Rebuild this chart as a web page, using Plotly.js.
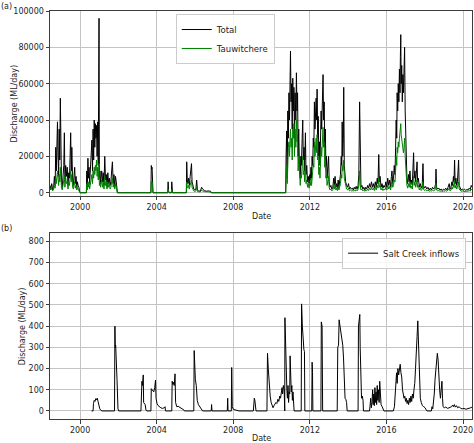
<!DOCTYPE html>
<html>
<head>
<meta charset="utf-8">
<script src="https://cdn.plot.ly/plotly-3.0.1.min.js"></script>
<style>
  html, body { margin: 0; padding: 0; background: #fff; }
  #chart { width: 474px; height: 443px; }
</style>
</head>
<body>
<div id="chart"></div>
<script>
// (a) barrage discharge, ML/day (decimal years)
const lakeYears = [
  // 1998-99
  1998.43, 1998.47, 1998.52, 1998.57, 1998.62, 1998.66, 1998.70, 1998.73, 1998.76, 1998.79,
  1998.82, 1998.85, 1998.88, 1998.91, 1998.94, 1998.97, 1999.00, 1999.03, 1999.07, 1999.11,
  1999.15, 1999.18, 1999.21, 1999.25, 1999.29, 1999.33, 1999.37, 1999.41, 1999.45, 1999.48,
  1999.51, 1999.54, 1999.57, 1999.61, 1999.65, 1999.69, 1999.72, 1999.75, 1999.79, 1999.83,
  1999.86, 1999.90, 1999.94, 1999.97, 2000.00, 2000.33,
  // 2000-01
  2000.35, 2000.38, 2000.41, 2000.44, 2000.47, 2000.50, 2000.53, 2000.56, 2000.59, 2000.62,
  2000.65, 2000.68, 2000.71, 2000.74, 2000.77, 2000.80, 2000.83, 2000.86, 2000.89, 2000.92,
  2000.95, 2000.97, 2000.99, 2001.01, 2001.04, 2001.07, 2001.10, 2001.13, 2001.17, 2001.21,
  2001.25, 2001.29, 2001.33, 2001.37, 2001.41, 2001.45, 2001.49, 2001.53, 2001.57, 2001.61,
  2001.65, 2001.69, 2001.73, 2001.77, 2001.81, 2001.85, 2001.89, 2001.93, 2001.95, 2003.70,
  // 2003-06
  2003.72, 2003.74, 2003.76, 2003.79, 2003.81, 2004.58, 2004.60, 2004.62, 2004.66, 2004.77,
  2004.79, 2004.81, 2004.83, 2005.55, 2005.57, 2005.60, 2005.63, 2005.67, 2005.71, 2005.75,
  2005.79, 2005.82, 2005.85, 2005.89, 2005.94, 2006.00, 2006.05, 2006.09, 2006.13, 2006.20,
  2006.28, 2006.35, 2006.40, 2006.50, 2006.60, 2006.70, 2006.82, 2006.85, 2010.74,
  // 2010-20
  2010.76, 2010.79, 2010.82, 2010.85, 2010.88, 2010.91, 2010.94, 2010.97, 2010.99, 2011.02,
  2011.05, 2011.08, 2011.11, 2011.14, 2011.17, 2011.20, 2011.23, 2011.27, 2011.30, 2011.33,
  2011.36, 2011.39, 2011.42, 2011.46, 2011.50, 2011.53, 2011.56, 2011.60, 2011.63, 2011.66,
  2011.70, 2011.73, 2011.77, 2011.80, 2011.84, 2011.88, 2011.92, 2011.96, 2012.00, 2012.03,
  2012.06, 2012.09, 2012.12, 2012.15, 2012.18, 2012.21, 2012.24, 2012.27, 2012.30, 2012.33,
  2012.36, 2012.38, 2012.41, 2012.44, 2012.47, 2012.50, 2012.53, 2012.56, 2012.59, 2012.62,
  2012.65, 2012.69, 2012.72, 2012.75, 2012.78, 2012.81, 2012.84, 2012.87, 2012.90, 2012.94,
  2012.98, 2013.01, 2013.05, 2013.10, 2013.15, 2013.20, 2013.25, 2013.28, 2013.32, 2013.36,
  2013.40, 2013.44, 2013.48, 2013.52, 2013.56, 2013.60, 2013.64, 2013.67, 2013.69, 2013.72,
  2013.75, 2013.77, 2013.80, 2013.83, 2013.87, 2013.92, 2013.97, 2014.02, 2014.07, 2014.12,
  2014.17, 2014.22, 2014.27, 2014.32, 2014.37, 2014.42, 2014.47, 2014.52, 2014.56, 2014.60,
  2014.63, 2014.67, 2014.72, 2014.77, 2014.82, 2014.87, 2014.92, 2014.97, 2015.02, 2015.07,
  2015.12, 2015.17, 2015.22, 2015.27, 2015.32, 2015.37, 2015.42, 2015.47, 2015.52, 2015.56,
  2015.60, 2015.63, 2015.67, 2015.72, 2015.77, 2015.82, 2015.87, 2015.92, 2015.97, 2016.02,
  2016.07, 2016.12, 2016.17, 2016.22, 2016.26, 2016.29, 2016.33, 2016.37, 2016.41, 2016.45,
  2016.48, 2016.51, 2016.54, 2016.56, 2016.59, 2016.62, 2016.65, 2016.68, 2016.71, 2016.73,
  2016.75, 2016.77, 2016.80, 2016.83, 2016.86, 2016.89, 2016.92, 2016.95, 2016.98, 2017.01,
  2017.04, 2017.07, 2017.11, 2017.15, 2017.19, 2017.23, 2017.27, 2017.31, 2017.35, 2017.39,
  2017.42, 2017.45, 2017.49, 2017.53, 2017.57, 2017.60, 2017.63, 2017.67, 2017.72, 2017.77,
  2017.82, 2017.87, 2017.91, 2017.94, 2017.99, 2018.05, 2018.11, 2018.17, 2018.23, 2018.29,
  2018.35, 2018.41, 2018.47, 2018.53, 2018.57, 2018.59, 2018.62, 2018.68, 2018.74, 2018.80,
  2018.86, 2018.92, 2018.98, 2019.04, 2019.10, 2019.16, 2019.22, 2019.28, 2019.32, 2019.37,
  2019.42, 2019.46, 2019.50, 2019.53, 2019.56, 2019.59, 2019.63, 2019.67, 2019.71, 2019.74,
  2019.77, 2019.80, 2019.85, 2019.90, 2019.96, 2020.02, 2020.08, 2020.14, 2020.20, 2020.26,
  2020.32, 2020.38, 2020.43, 2020.47
];

const totalFlow = [
  4000, 2000, 5000, 1500, 3000, 9000, 4000, 25000, 12000, 30000,
  39000, 20000, 9000, 35000, 18000, 52000, 10000, 6000, 3000, 8000,
  15000, 33000, 6000, 15000, 9000, 14000, 4000, 11000, 8000, 20000,
  33000, 12000, 25000, 7000, 4000, 10000, 14000, 5000, 9000, 3000,
  6000, 4000, 3000, 1000, 0, 0,

  12000, 3000, 19000, 8000, 14000, 5000, 10000, 16000, 22000, 29000,
  12000, 35000, 18000, 40000, 25000, 38000, 30000, 37000, 20000, 39000,
  15000, 50000, 96000, 8000, 12000, 5000, 9000, 12000, 6000, 11000,
  4000, 20000, 7000, 10000, 3000, 11000, 5000, 8000, 4000, 6000,
  12000, 17000, 5000, 10000, 3000, 9000, 6000, 500, 0, 0,

  15000, 13000, 14000, 3000, 0, 0, 6000, 1000, 0, 0,
  6000, 2000, 0, 0, 17000, 7000, 5000, 8000, 4000, 9000,
  14000, 16000, 6000, 3000, 2000, 1500, 2000, 7000, 1500, 1000,
  800, 3000, 2000, 1200, 800, 1000, 800, 0, 0,

  20000, 34000, 8000, 45000, 30000, 55000, 40000, 65000, 78000, 50000,
  60000, 35000, 63000, 45000, 58000, 30000, 55000, 40000, 66000, 45000,
  55000, 20000, 35000, 12000, 8000, 20000, 15000, 30000, 40000, 18000,
  25000, 12000, 33000, 10000, 15000, 6000, 9000, 5000, 10000, 7000,
  14000, 8000, 20000, 15000, 30000, 25000, 50000, 35000, 45000, 52000,
  40000, 57000, 30000, 42000, 20000, 28000, 15000, 30000, 45000, 35000,
  55000, 65000, 40000, 50000, 25000, 35000, 15000, 20000, 8000, 12000,
  20000, 6000, 3000, 4000, 2000, 3000, 8000, 4000, 9000, 3000,
  5000, 2500, 7000, 3000, 6000, 10000, 20000, 15000, 39000, 20000,
  30000, 58000, 15000, 10000, 6000, 4000, 3000, 5000, 2000, 3000,
  2000, 2500, 1500, 3000, 2000, 3500, 2000, 4000, 10000, 50000,
  8000, 3000, 4000, 2000, 3000, 1500, 3000, 2000, 4000, 2500,
  5000, 3000, 6000, 3000, 5000, 2500, 6000, 3000, 8000, 5000,
  21000, 6000, 9000, 3000, 5000, 2500, 4000, 3000, 6000, 3000,
  8000, 4000, 7000, 3000, 9000, 12000, 5000, 8000, 15000, 10000,
  25000, 40000, 30000, 55000, 45000, 60000, 50000, 68000, 55000, 75000,
  87000, 60000, 70000, 50000, 65000, 55000, 70000, 80000, 45000, 30000,
  15000, 8000, 5000, 10000, 6000, 12000, 5000, 7000, 4000, 14000,
  22000, 8000, 12000, 6000, 10000, 17000, 6000, 8000, 3000, 5000,
  2500, 4000, 16000, 4000, 2500, 3500, 2000, 3000, 1500, 2500,
  1500, 3000, 2000, 3000, 5000, 13000, 3000, 2000, 2500, 1500,
  2000, 1200, 2000, 1500, 2500, 1500, 3000, 5000, 2000, 3000,
  6000, 4000, 9000, 6000, 18000, 5000, 8000, 4000, 6000, 10000,
  18000, 4000, 2500, 1500, 2000, 1500, 2000, 1200, 1800, 1500,
  2500, 1800, 4000, 3000
];

const tauwitchereFlow = [
  3000, 1500, 2500, 1000, 2000, 4000, 2500, 8000, 5000, 9000,
  12000, 8000, 4000, 10000, 6000, 14000, 4000, 2500, 1500, 4000,
  7000, 9000, 3000, 8000, 5000, 6000, 2000, 6000, 4000, 9000,
  12000, 6000, 10000, 3000, 2000, 5000, 6000, 2500, 4000, 1500,
  3000, 2000, 1500, 500, 0, 0,

  5000, 1500, 6000, 3000, 6000, 2000, 4000, 7000, 9000, 10000,
  5000, 12000, 8000, 14000, 10000, 15000, 12000, 18000, 9000, 14000,
  7000, 12000, 16000, 4000, 6000, 3000, 5000, 7000, 3000, 6000,
  2000, 9000, 4000, 6000, 2000, 6000, 3000, 5000, 2000, 3000,
  6000, 8000, 3000, 5000, 2000, 5000, 3000, 300, 0, 0,

  6000, 5000, 6000, 1500, 0, 0, 2000, 500, 0, 0,
  2000, 800, 0, 0, 6000, 3000, 2500, 4000, 2000, 4000,
  6000, 7000, 3000, 1500, 1000, 700, 1000, 3000, 700, 500,
  400, 1500, 1000, 600, 400, 500, 400, 0, 0,

  10000, 15000, 5000, 20000, 25000, 28000, 20000, 30000, 35000, 25000,
  30000, 18000, 35000, 30000, 38000, 20000, 35000, 25000, 40000, 28000,
  32000, 12000, 20000, 7000, 4000, 10000, 8000, 15000, 20000, 10000,
  12000, 6000, 18000, 5000, 7000, 3000, 5000, 2500, 5000, 4000,
  8000, 4000, 10000, 9000, 16000, 14000, 28000, 20000, 25000, 30000,
  22000, 32000, 18000, 20000, 10000, 14000, 8000, 16000, 25000, 20000,
  30000, 36000, 25000, 28000, 14000, 18000, 8000, 10000, 4000, 6000,
  9000, 3000, 1500, 2000, 1000, 1500, 4000, 2000, 5000, 1500,
  2500, 1200, 3500, 1500, 3000, 5000, 10000, 8000, 15000, 12000,
  14000, 18000, 8000, 6000, 3000, 2000, 1500, 2500, 1000, 1500,
  1000, 1200, 800, 1500, 1000, 1700, 1000, 2000, 4000, 12000,
  4000, 1500, 2000, 1000, 1500, 800, 1500, 1000, 2000, 1200,
  2500, 1500, 3000, 1500, 2500, 1200, 3000, 1500, 4000, 2500,
  8000, 3000, 4000, 1500, 2500, 1200, 2000, 1500, 3000, 1500,
  4000, 2000, 3500, 1500, 4500, 6000, 3000, 4000, 7000, 6000,
  12000, 20000, 15000, 25000, 22000, 28000, 25000, 30000, 35000, 36000,
  38000, 32000, 30000, 28000, 25000, 22000, 25000, 30000, 20000, 14000,
  8000, 4000, 2500, 5000, 3000, 6000, 2500, 3500, 2000, 6000,
  9000, 4000, 6000, 3000, 5000, 7000, 3000, 4000, 1500, 2500,
  1200, 2000, 6000, 2000, 1200, 1700, 1000, 1500, 800, 1200,
  800, 1500, 1000, 1500, 2500, 5000, 1500, 1000, 1200, 800,
  1000, 600, 1000, 800, 1200, 800, 1500, 2500, 1000, 1500,
  3000, 2000, 4500, 3000, 7000, 2500, 4000, 2000, 3000, 5000,
  6000, 2000, 1200, 800, 1000, 800, 1000, 600, 900, 800,
  1200, 900, 2000, 1500
];

// (b) Salt Creek inflows, ML/day
const saltYears = [
  2000.60, 2000.68, 2000.70, 2000.74, 2000.78, 2000.82, 2000.86, 2000.90, 2000.94, 2000.98,
  2001.03, 2001.10, 2001.15, 2001.80, 2001.82, 2001.84, 2001.86, 2001.88, 2001.90, 2001.93,
  2001.98, 2002.02, 2003.18, 2003.20, 2003.23, 2003.26, 2003.30, 2003.32, 2003.36, 2003.40,
  2003.44, 2003.48, 2003.70, 2003.72, 2003.76, 2003.80, 2003.85, 2003.90, 2003.94, 2003.97,
  2004.02, 2004.08, 2004.14, 2004.22, 2004.30, 2004.38, 2004.44, 2004.46, 2004.79, 2004.81,
  2004.85, 2004.88, 2004.92, 2004.96, 2004.99, 2005.05, 2005.12, 2005.20, 2005.28, 2005.36,
  2005.42, 2005.45, 2005.94, 2005.96, 2005.99, 2006.02, 2006.07, 2006.12, 2006.18, 2006.24,
  2006.30, 2006.36, 2006.40, 2006.85, 2006.87, 2006.89, 2007.69, 2007.71, 2007.73, 2007.90,
  2007.92, 2007.95, 2008.00, 2008.10, 2008.20, 2008.30, 2009.05, 2009.07, 2009.10, 2009.13,
  2009.16, 2009.19, 2009.76, 2009.79, 2009.83, 2009.88, 2009.93, 2009.98, 2010.03, 2010.08,
  2010.13, 2010.18, 2010.23, 2010.28, 2010.33, 2010.38, 2010.43, 2010.47, 2010.51, 2010.55,
  2010.58, 2010.62, 2010.66, 2010.67, 2010.69, 2010.70, 2010.72, 2010.74, 2010.77, 2010.80,
  2010.83, 2010.86, 2010.89, 2010.92, 2010.95, 2010.97, 2011.00, 2011.03, 2011.06, 2011.09,
  2011.12, 2011.15, 2011.18, 2011.55, 2011.57, 2011.61, 2011.65, 2011.69, 2011.72, 2011.74,
  2012.10, 2012.12, 2012.14, 2012.16, 2012.58, 2012.60, 2012.64, 2012.67, 2013.43, 2013.46,
  2013.50, 2013.53, 2013.57, 2013.62, 2013.67, 2013.72, 2013.76, 2013.80, 2013.84, 2013.88,
  2013.92, 2013.95, 2014.52, 2014.54, 2014.58, 2014.61, 2014.63, 2014.66, 2014.70, 2014.74,
  2014.78, 2014.80, 2015.12, 2015.14, 2015.18, 2015.21, 2015.25, 2015.28, 2015.31, 2015.34,
  2015.37, 2015.40, 2015.43, 2015.46, 2015.49, 2015.52, 2015.55, 2015.58, 2015.62, 2015.65,
  2015.68, 2015.72, 2015.78, 2015.84, 2015.87, 2016.36, 2016.38, 2016.42, 2016.46, 2016.50,
  2016.53, 2016.56, 2016.60, 2016.64, 2016.68, 2016.72, 2016.76, 2016.80, 2016.84, 2016.88,
  2016.92, 2016.96, 2017.00, 2017.04, 2017.08, 2017.12, 2017.16, 2017.20, 2017.24, 2017.28,
  2017.32, 2017.36, 2017.40, 2017.44, 2017.48, 2017.52, 2017.56, 2017.60, 2017.64, 2017.67,
  2017.70, 2017.73, 2017.77, 2017.82, 2017.88, 2017.95, 2018.02, 2018.08, 2018.12, 2018.35,
  2018.38, 2018.42, 2018.46, 2018.50, 2018.54, 2018.58, 2018.62, 2018.66, 2018.70, 2018.74,
  2018.78, 2018.82, 2018.86, 2018.90, 2018.93, 2018.96, 2019.02, 2019.10, 2019.20, 2019.30,
  2019.40, 2019.46, 2019.50, 2019.55, 2019.60, 2019.66, 2019.72, 2019.80, 2019.88, 2019.96,
  2020.05, 2020.15, 2020.25, 2020.33, 2020.40, 2020.47
];

const saltCreekFlow = [
  0, 0, 35, 50, 45, 58, 52, 60, 45, 30,
  10, 2, 0, 0, 400, 300, 310, 220, 250, 150,
  10, 0, 0, 100, 140, 120, 170, 40, 35, 30,
  5, 0, 0, 105, 100, 95, 90, 110, 145, 60,
  35, 25, 20, 15, 12, 14, 20, 0, 0, 140,
  125, 135, 120, 175, 40, 20, 22, 18, 12, 10,
  5, 0, 0, 285, 200, 150, 120, 50, 30, 20,
  12, 5, 0, 0, 30, 0, 0, 60, 0, 0,
  205, 20, 8, 5, 3, 0, 0, 40, 60, 50,
  30, 0, 0, 272, 200, 120, 70, 40, 20, 15,
  25, 30, 40, 35, 55, 45, 70, 60, 90, 110,
  80, 120, 100, 0, 0, 440, 350, 200, 130, 100,
  60, 120, 40, 90, 80, 260, 160, 90, 120, 50,
  90, 30, 0, 0, 505, 400, 330, 290, 280, 0,
  0, 230, 180, 0, 0, 420, 400, 0, 0, 300,
  310, 430, 400, 370, 350, 310, 250, 150, 60, 55,
  40, 0, 0, 400, 420, 455, 300, 150, 60, 70,
  50, 0, 0, 20, 60, 15, 40, 100, 30, 80,
  25, 110, 40, 90, 30, 120, 50, 100, 40, 140,
  60, 30, 20, 5, 0, 0, 10, 20, 80, 150,
  180, 130, 200, 170, 210, 220, 180, 160, 100, 80,
  60, 70, 45, 60, 35, 50, 30, 60, 40, 70,
  45, 80, 60, 100, 130, 200, 250, 350, 425, 330,
  220, 120, 60, 40, 25, 20, 15, 5, 0, 0,
  20, 10, 40, 80, 150, 200, 250, 272, 240, 150,
  100, 60, 90, 140, 60, 20, 15, 18, 12, 15,
  20, 28, 20, 30, 18, 25, 15, 20, 12, 10,
  12, 8, 10, 14, 15, 18
];

const yearTicks = [2000, 2004, 2008, 2012, 2016, 2020];
const flowTicks = [0, 20000, 40000, 60000, 80000, 100000];
const saltTicks = [0, 100, 200, 300, 400, 500, 600, 700, 800];

const family = "DejaVu Sans, Verdana, sans-serif";
const ink = "#1e1e1e";
const spine = "#3c3c3c";
const gridColor = "#c4c4c4";

function axis(extra) {
  return Object.assign({
    showline: true, mirror: true, linecolor: spine, linewidth: 1,
    ticks: "outside", ticklen: 3.5, tickwidth: 1, tickcolor: spine,
    showgrid: true, gridcolor: gridColor, gridwidth: 1,
    zeroline: false, tickformat: "d",
    tickfont: { family: family, size: 8, color: ink },
  }, extra);
}

const traces = [
  {
    x: lakeYears, y: totalFlow, name: "Total",
    type: "scatter", mode: "lines",
    line: { color: "#000000", width: 1 },
    xaxis: "x", yaxis: "y", legend: "legend",
  },
  {
    x: lakeYears, y: tauwitchereFlow, name: "Tauwitchere",
    type: "scatter", mode: "lines",
    line: { color: "#008000", width: 1 },
    xaxis: "x", yaxis: "y", legend: "legend",
  },
  {
    x: saltYears, y: saltCreekFlow, name: "Salt Creek inflows",
    type: "scatter", mode: "lines",
    line: { color: "#000000", width: 1 },
    xaxis: "x2", yaxis: "y2", legend: "legend2",
  },
];

const legendStyle = {
  bgcolor: "rgba(255,255,255,0.85)", bordercolor: "#cccccc", borderwidth: 1,
  font: { family: family, size: 8.5, color: ink },
  itemwidth: 30, tracegroupgap: 0,
};

const layout = {
  width: 474, height: 443,
  margin: { l: 50, r: 2, t: 11, b: 24 },
  paper_bgcolor: "#ffffff", plot_bgcolor: "#ffffff",
  showlegend: true,
  xaxis: axis({ anchor: "y", domain: [0, 1], range: [1998.43, 2020.47], tickvals: yearTicks }),
  yaxis: axis({ anchor: "x", domain: [0.5466, 1], range: [-1800, 100000], tickvals: flowTicks }),
  xaxis2: axis({ anchor: "y2", domain: [0, 1], range: [1998.43, 2020.47], tickvals: yearTicks }),
  yaxis2: axis({ anchor: "x2", domain: [0, 0.4551], range: [-38, 838], tickvals: saltTicks }),
  legend: Object.assign({ x: 0.298, y: 0.9926, xanchor: "left", yanchor: "top" }, legendStyle),
  legend2: Object.assign({ x: 0.986, y: 0.4444, xanchor: "right", yanchor: "top" }, legendStyle),
  annotations: [
    { text: "(a)", xref: "paper", yref: "paper", x: -0.12, y: 1.012, xanchor: "left", yanchor: "middle", showarrow: false, font: { family: family, size: 8, color: ink } },
    { text: "(b)", xref: "paper", yref: "paper", x: -0.12, y: 0.468, xanchor: "left", yanchor: "middle", showarrow: false, font: { family: family, size: 8, color: ink } },
    { text: "Discharge (ML/day)", xref: "paper", yref: "paper", x: 0, y: 0.7733, xshift: -36, textangle: -90, xanchor: "center", yanchor: "middle", showarrow: false, font: { family: family, size: 8, color: ink } },
    { text: "Discharge (ML/day)", xref: "paper", yref: "paper", x: 0, y: 0.2275, xshift: -28, textangle: -90, xanchor: "center", yanchor: "middle", showarrow: false, font: { family: family, size: 8, color: ink } },
    { text: "Date", xref: "paper", yref: "paper", x: 0.5, y: 0.4975, xanchor: "center", yanchor: "middle", showarrow: false, font: { family: family, size: 8, color: ink } },
    { text: "Date", xref: "paper", yref: "paper", x: 0.5, y: -0.049, xanchor: "center", yanchor: "middle", showarrow: false, font: { family: family, size: 8, color: ink } },
  ],
};

Plotly.newPlot("chart", traces, layout, { displayModeBar: false, staticPlot: true });
</script>
</body>
</html>
